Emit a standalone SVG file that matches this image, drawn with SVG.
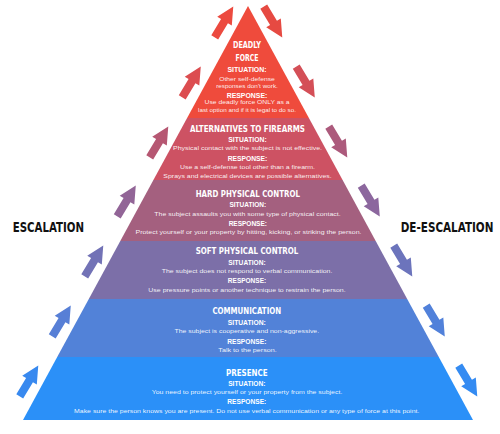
<svg xmlns="http://www.w3.org/2000/svg" xmlns:xlink="http://www.w3.org/1999/xlink" width="500" height="434" viewBox="0 0 500 434">
<style>
.t{font-family:"Liberation Sans Narrow","DejaVu Sans Condensed","Liberation Sans",sans-serif;font-weight:bold;font-size:9px;fill:#fff;text-anchor:middle}
.l{font-family:"Liberation Sans",Arial,sans-serif;font-weight:bold;font-size:6.3px;fill:#fff;text-anchor:middle}
.b{font-family:"Liberation Sans",Arial,sans-serif;font-size:6.2px;fill:#fff;fill-opacity:0.92;text-anchor:middle}
.side{font-family:"Liberation Sans Narrow","DejaVu Sans Condensed","Liberation Sans",sans-serif;font-weight:bold;font-size:14px;fill:#111}
</style>
<defs>
<path id="arr" d="M0,-18 L8.5,-1 L4,-1 L4,18 L-4,18 L-4,-1 L-8.5,-1 Z"/>
</defs>
<rect width="500" height="434" fill="#fff"/>

<g id="connectors">
<g id="escalation-arrows">
<use href="#arr" transform="translate(224,22) rotate(31)" fill="#ec4a3f"/>
<use href="#arr" transform="translate(191.5,82) rotate(31)" fill="#dc4d50"/>
<use href="#arr" transform="translate(159,142) rotate(31)" fill="#b65772"/>
<use href="#arr" transform="translate(126.5,201) rotate(31)" fill="#926597"/>
<use href="#arr" transform="translate(94,261) rotate(31)" fill="#7272b6"/>
<use href="#arr" transform="translate(61.5,321) rotate(31)" fill="#577fd6"/>
<use href="#arr" transform="translate(29,381) rotate(31)" fill="#3889ef"/>
</g>
<g id="deescalation-arrows">
<use href="#arr" transform="translate(273,22) rotate(149)" fill="#e64a42"/>
<use href="#arr" transform="translate(305.5,82) rotate(149)" fill="#d44f57"/>
<use href="#arr" transform="translate(338,142) rotate(149)" fill="#ac5a7c"/>
<use href="#arr" transform="translate(370.5,201) rotate(149)" fill="#8c679e"/>
<use href="#arr" transform="translate(403,261) rotate(149)" fill="#6c74bc"/>
<use href="#arr" transform="translate(435.5,321) rotate(149)" fill="#5181da"/>
<use href="#arr" transform="translate(468,381) rotate(149)" fill="#348bf2"/>
</g>
</g>

<g id="deadly-force">
<polygon points="248,6 308.9,118 187.1,118" fill="#ef4b3c"/>
<text class="t" x="247" y="48.3" font-size="9.5" textLength="28" lengthAdjust="spacingAndGlyphs">DEADLY</text>
<text class="t" x="247" y="60.7" font-size="9.5" textLength="23" lengthAdjust="spacingAndGlyphs">FORCE</text>
<text class="l" x="247" y="71.7" textLength="39" lengthAdjust="spacingAndGlyphs">SITUATION:</text>
<text class="b" x="247" y="80.7" textLength="55.7" lengthAdjust="spacingAndGlyphs">Other self-defense</text>
<text class="b" x="247" y="87.7" textLength="61.7" lengthAdjust="spacingAndGlyphs">responses don't work.</text>
<text class="l" x="247" y="98.3" textLength="40.7" lengthAdjust="spacingAndGlyphs">RESPONSE:</text>
<text class="b" x="247" y="104.3" textLength="85" lengthAdjust="spacingAndGlyphs">Use deadly force ONLY as a</text>
<text class="b" x="247" y="111.5" textLength="98" lengthAdjust="spacingAndGlyphs">last option and if it is legal to do so.</text>
</g>

<g id="alternatives">
<polygon points="187.1,118 308.9,118 342.6,180 153.4,180" fill="#cd5263"/>
<text class="t" x="247.5" y="131.7" textLength="115" lengthAdjust="spacingAndGlyphs">ALTERNATIVES TO FIREARMS</text>
<text class="l" x="247.5" y="142.3" textLength="38.3" lengthAdjust="spacingAndGlyphs">SITUATION:</text>
<text class="b" x="247.5" y="150" textLength="149" lengthAdjust="spacingAndGlyphs">Physical contact with the subject is not effective.</text>
<text class="l" x="247.5" y="161" textLength="39.7" lengthAdjust="spacingAndGlyphs">RESPONSE:</text>
<text class="b" x="247.5" y="169" textLength="135" lengthAdjust="spacingAndGlyphs">Use a self-defense tool other than a firearm.</text>
<text class="b" x="247.5" y="177.7" textLength="168.3" lengthAdjust="spacingAndGlyphs">Sprays and electrical devices are possible alternatives.</text>
</g>

<g id="hard-physical-control">
<polygon points="153.4,180 342.6,180 375.7,241 120.3,241" fill="#a4607f"/>
<text class="t" x="247.8" y="197.3" textLength="104.3" lengthAdjust="spacingAndGlyphs">HARD PHYSICAL CONTROL</text>
<text class="l" x="247.8" y="207.3" textLength="36.7" lengthAdjust="spacingAndGlyphs">SITUATION:</text>
<text class="b" x="247.5" y="216" textLength="186.3" lengthAdjust="spacingAndGlyphs">The subject assaults you with some type of physical contact.</text>
<text class="l" x="247.8" y="225.7" textLength="38.3" lengthAdjust="spacingAndGlyphs">RESPONSE:</text>
<text class="b" x="248.5" y="234.3" textLength="226" lengthAdjust="spacingAndGlyphs">Protect yourself or your property by hitting, kicking, or striking the person.</text>
</g>

<g id="soft-physical-control">
<polygon points="120.3,241 375.7,241 407.2,299 88.8,299" fill="#7c6fa8"/>
<text class="t" x="247" y="254" textLength="102.7" lengthAdjust="spacingAndGlyphs">SOFT PHYSICAL CONTROL</text>
<text class="l" x="247" y="265" textLength="37.3" lengthAdjust="spacingAndGlyphs">SITUATION:</text>
<text class="b" x="247" y="272.7" textLength="170.7" lengthAdjust="spacingAndGlyphs">The subject does not respond to verbal communication.</text>
<text class="l" x="247" y="283.3" textLength="38.3" lengthAdjust="spacingAndGlyphs">RESPONSE:</text>
<text class="b" x="247" y="291.7" textLength="197.3" lengthAdjust="spacingAndGlyphs">Use pressure points or another technique to restrain the person.</text>
</g>

<g id="communication">
<polygon points="88.8,299 407.2,299 438.8,357 57.2,357" fill="#5282d8"/>
<text class="t" x="246.8" y="314" textLength="68.7" lengthAdjust="spacingAndGlyphs">COMMUNICATION</text>
<text class="l" x="246.8" y="325" textLength="38" lengthAdjust="spacingAndGlyphs">SITUATION:</text>
<text class="b" x="246.8" y="333.3" textLength="144.7" lengthAdjust="spacingAndGlyphs">The subject is cooperative and non-aggressive.</text>
<text class="l" x="246.8" y="344.3" textLength="39.3" lengthAdjust="spacingAndGlyphs">RESPONSE:</text>
<text class="b" x="247.5" y="352.3" textLength="58.3" lengthAdjust="spacingAndGlyphs">Talk to the person.</text>
</g>

<g id="presence">
<polygon points="57.2,357 438.8,357 473,420 23,420" fill="#2b90f8"/>
<text class="t" x="246.8" y="375.7" textLength="41.7" lengthAdjust="spacingAndGlyphs">PRESENCE</text>
<text class="l" x="246.8" y="386" textLength="37.3" lengthAdjust="spacingAndGlyphs">SITUATION:</text>
<text class="b" x="247" y="394.3" textLength="190.7" lengthAdjust="spacingAndGlyphs">You need to protect yourself or your property from the subject.</text>
<text class="l" x="246.8" y="404.3" textLength="39" lengthAdjust="spacingAndGlyphs">RESPONSE:</text>
<text class="b" x="246.7" y="412.7" textLength="345.3" lengthAdjust="spacingAndGlyphs">Make sure the person knows you are present. Do not use verbal communication or any type of force at this point.</text>
</g>

<g id="escalation-label">
<text class="side" transform="translate(12.7,231.7) scale(0.8,1)" x="0" y="0" textLength="89.1" lengthAdjust="spacingAndGlyphs">ESCALATION</text>
</g>
<g id="deescalation-label">
<text class="side" transform="translate(400.7,231.7) scale(0.8,1)" x="0" y="0" textLength="115.9" lengthAdjust="spacingAndGlyphs">DE-ESCALATION</text>
</g>
</svg>
